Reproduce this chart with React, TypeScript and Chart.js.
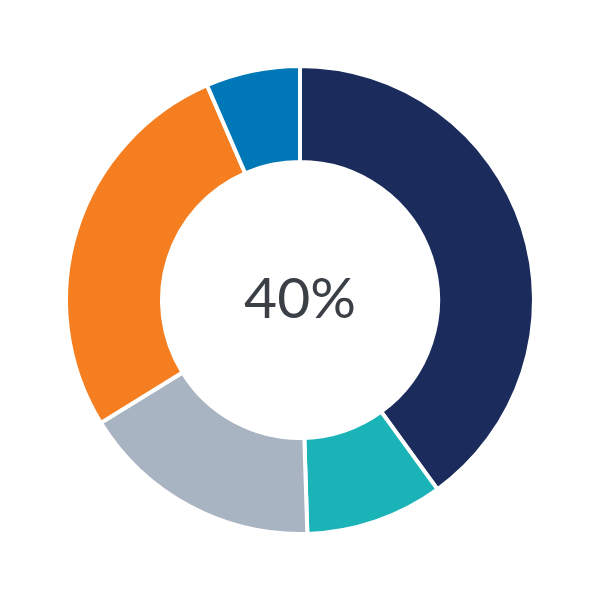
import React, { useEffect, useRef } from "react";
import { Chart, registerables, ChartOptions, Plugin } from "chart.js";

Chart.register(...registerables);

// share of each segment, clockwise from the top
const labels = ["Navy", "Teal", "Gray", "Orange", "Blue"];
const values = [40, 9.5, 16.7, 27.3, 6.5];
const colors = ["#1b2b5b", "#1ab4b8", "#a9b4c3", "#f47e20", "#0077b6"];
const centerLabel = "40%";

const centerText: Plugin<"doughnut"> = {
  id: "centerText",
  afterDraw(chart) {
    const { ctx, chartArea } = chart;
    const x = (chartArea.left + chartArea.right) / 2;
    const y = (chartArea.top + chartArea.bottom) / 2;
    ctx.save();
    ctx.font = "400 57px Lato, 'Open Sans', sans-serif";
    ctx.fillStyle = "#3b4047";
    ctx.textAlign = "center";
    ctx.textBaseline = "middle";
    ctx.fillText(centerLabel, x, y);
    ctx.restore();
  },
};

const App: React.FC = () => {
  const canvasRef = useRef<HTMLCanvasElement>(null);

  useEffect(() => {
    if (!canvasRef.current) return;
    const ctx = canvasRef.current.getContext("2d")!;

    const options: ChartOptions<"doughnut"> = {
      responsive: true,
      maintainAspectRatio: false,
      animation: false,
      cutout: "59%",
      layout: { padding: 64 },
      plugins: {
        legend: { display: false },
        tooltip: { enabled: false },
      },
    };

    const chart = new Chart(ctx, {
      type: "doughnut",
      data: {
        labels,
        datasets: [
          {
            data: values,
            backgroundColor: colors,
            borderColor: "#ffffff",
            borderWidth: 4,
          },
        ],
      },
      options,
      plugins: [centerText],
    });

    return () => {
      chart.destroy();
    };
  }, []);

  return (
    <div style={{ position: "fixed", left: 0, top: 0, width: 600, height: 600, background: "#fff" }}>
      <canvas ref={canvasRef} />
    </div>
  );
};

export default App;
